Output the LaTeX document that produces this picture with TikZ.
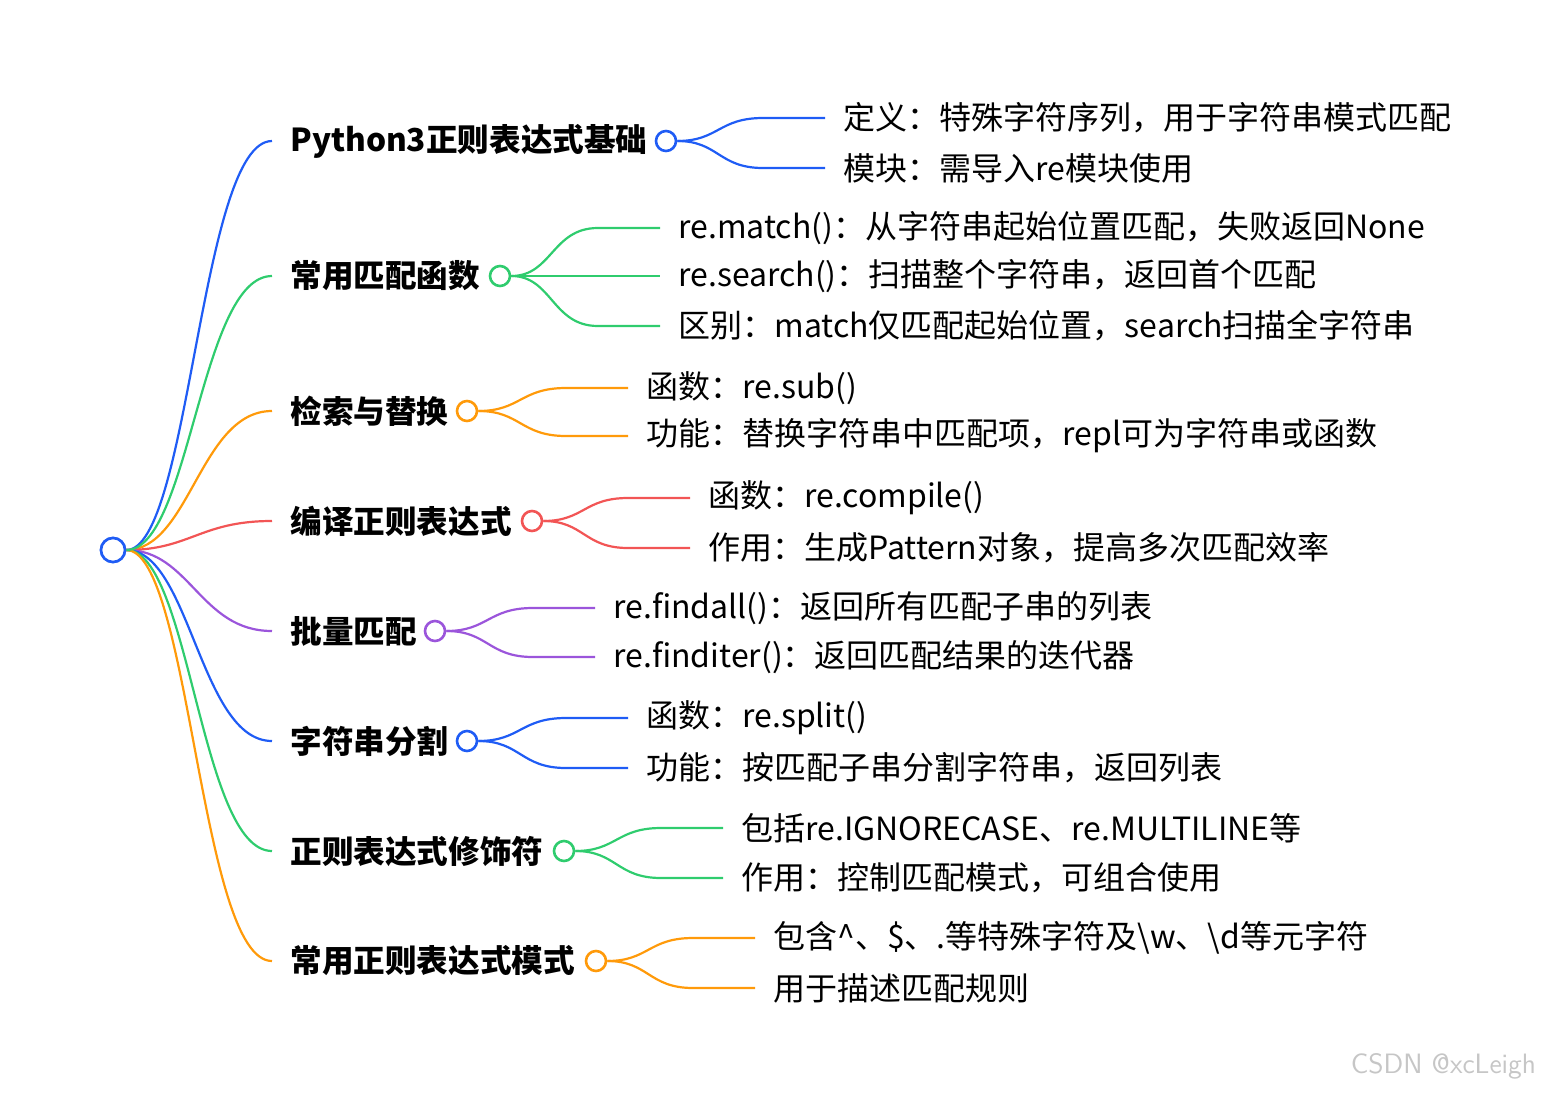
\documentclass[tikz,border=0pt]{standalone}
\usepackage{fontspec}
\usetikzlibrary{calc}
\setmainfont{Noto Sans CJK SC}
\begin{document}
\begin{tikzpicture}[x=0.5pt,y=-0.5pt]
\definecolor{cb}{HTML}{1F5CF5}
\definecolor{cg}{HTML}{2FCC6E}
\definecolor{co}{HTML}{FF9A0A}
\definecolor{cr}{HTML}{F25555}
\definecolor{cp}{HTML}{9B55DB}
\tikzset{dot/.style={circle,draw=#1,fill=white,line width=1.3pt,inner sep=0pt,minimum size=10pt},
 edge/.style={draw=#1,line width=1.1pt},
 head/.style={anchor=west,font=\fontsize{15.8}{18}\selectfont\bfseries,inner sep=0pt},
 leaf/.style={anchor=west,font=\fontsize{16}{18}\selectfont,inner sep=0pt}}
\useasboundingbox (0,0) rectangle (1548,1093);
\node[dot=cb,minimum size=12pt] (root) at (113,550) {};
\foreach \i/\c/\y/\cx/\lx/\h/\la/\ya/\lb/\yb in {
 1/cb/141/666/825/{Python3正则表达式基础}/{定义：特殊字符序列，用于字符串模式匹配}/118/{模块：需导入re模块使用}/168,
 3/co/411/467/628/{检索与替换}/{函数：re.sub()}/388/{功能：替换字符串中匹配项，repl可为字符串或函数}/436,
 4/cr/521/532/690/{编译正则表达式}/{函数：re.compile()}/498/{作用：生成Pattern对象，提高多次匹配效率}/548,
 5/cp/631/435/595/{批量匹配}/{re.findall()：返回所有匹配子串的列表}/608/{re.finditer()：返回匹配结果的迭代器}/657,
 6/cb/741/467/628/{字符串分割}/{函数：re.split()}/718/{功能：按匹配子串分割字符串，返回列表}/768,
 7/cg/851/564/723/{正则表达式修饰符}/{包括re.IGNORECASE、re.MULTILINE等}/828/{作用：控制匹配模式，可组合使用}/878,
 8/co/961/596/755/{常用正则表达式模式}/{包含\^{}、\$、.等特殊字符及\textbackslash w、\textbackslash d等元字符}/938/{用于描述匹配规则}/988}{
 \pgfmathsetmacro\mx{(\cx+\lx-60)/2+3}
 \pgfmathsetmacro\ex{\lx-62}
 \coordinate (s\i) at (272,\y);
 \node[head] (h\i) at (290,\y) {\h};
 \node[dot=\c] (c\i) at (\cx,\y) {};
 \coordinate (a\i) at (\lx,\ya);
 \coordinate (b\i) at (\lx,\yb);
 \node[leaf] (la\i) at (\lx+18,\ya) {\la};
 \node[leaf] (lb\i) at (\lx+18,\yb) {\lb};
 \draw[edge=\c] (root.east) .. controls (190,550) and (200,\y) .. (s\i);
 \draw[edge=\c] (c\i.east) .. controls (\mx,\y) and (\mx,\ya) .. (\ex,\ya) -- (a\i);
 \draw[edge=\c] (c\i.east) .. controls (\mx,\y) and (\mx,\yb) .. (\ex,\yb) -- (b\i);
}
% branch 2 (three leaves)
\coordinate (s2) at (272,276);
\node[head] (h2) at (290,276) {常用匹配函数};
\node[dot=cg] (c2) at (500,276) {};
\coordinate (a2) at (660,228);\coordinate (m2) at (660,276);\coordinate (b2) at (660,326);
\node[leaf] (la2) at (678,228) {re.match()：从字符串起始位置匹配，失败返回None};
\node[leaf] (lm2) at (678,276) {re.search()：扫描整个字符串，返回首个匹配};
\node[leaf] (lb2) at (678,326) {区别：match仅匹配起始位置，search扫描全字符串};
\draw[edge=cg] (root.east) .. controls (190,550) and (200,276) .. (s2);
\draw[edge=cg] (c2.east) .. controls (552,276) and (552,228) .. (598,228) -- (a2);
\draw[edge=cg] (c2.east) -- (m2);
\draw[edge=cg] (c2.east) .. controls (552,276) and (552,326) .. (598,326) -- (b2);
\node[dot=cb,minimum size=12pt] at (113,550) {};
\node[anchor=east,text=gray!45,font=\fontsize{14}{16}\selectfont\sffamily] (wm) at (1543,1066) {CSDN @xcLeigh};
\end{tikzpicture}
\end{document}
